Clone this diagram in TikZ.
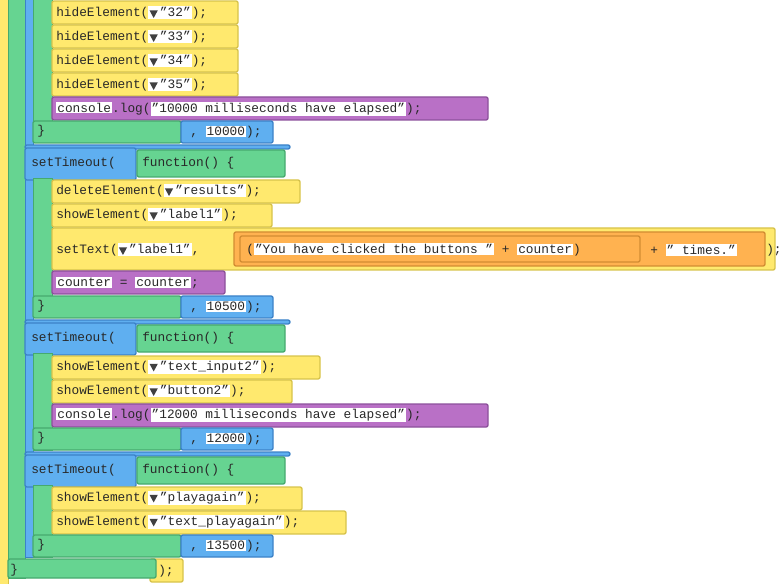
\documentclass[tikz,border=0pt]{standalone}
\usepackage{fontspec}
\setmainfont{Liberation Mono}
\definecolor{yel}{RGB}{255,233,110}
\definecolor{yelB}{RGB}{215,195,75}
\definecolor{grn}{RGB}{102,212,145}
\definecolor{grnB}{RGB}{70,170,110}
\definecolor{blu}{RGB}{95,175,240}
\definecolor{bluB}{RGB}{60,130,200}
\definecolor{pur}{RGB}{185,112,198}
\definecolor{purB}{RGB}{140,80,155}
\definecolor{org}{RGB}{255,178,80}
\definecolor{orgB}{RGB}{210,140,50}
\definecolor{txt}{RGB}{40,40,40}
\newcommand\fld[1]{{\setlength\fboxsep{0.8pt}\colorbox{white}{#1}}}
\newcommand\dd{\tikz[baseline=-0.3ex]\fill[black!75] (0,0.35em)--(0.65em,0.35em)--(0.325em,-0.25em)--cycle;}
\newcommand\ddf[1]{\fld{\dd\,"#1"}}
\begin{document}
\begin{tikzpicture}[x=0.75pt,y=-0.75pt,
 blk/.style={rounded corners=1.5pt,line width=1pt},
 Y/.style={blk,fill=yel,draw=yelB},
 G/.style={blk,fill=grn,draw=grnB},
 B/.style={blk,fill=blu,draw=bluB},
 P/.style={blk,fill=pur,draw=purB},
 O/.style={blk,fill=org,draw=orgB},
 T/.style={anchor=west,inner sep=0pt,text=txt,font=\fontsize{9.6pt}{11pt}\selectfont}]
\useasboundingbox (0,0) rectangle (781,584);
% outer
\fill[yel,draw=yelB] (-2,-2) rectangle (8,584);
\draw[Y] (150,559) rectangle (183,582);
\node[T] (close0) at (158,571) {);};
\fill[grn,draw=grnB] (8,-2) rectangle (25,578);
\draw[G] (8,559) rectangle (156,578);
\node[T] (br0) at (10,570) {\}};
% blue chain strip
\fill[blu,draw=bluB] (25,-2) rectangle (33,557);
% block 1 (clipped)
\fill[grn,draw=grnB] (33,-2) rectangle (52,140);
\draw[Y] (52,1) rectangle (238,24); \node[T] (h32) at (56,13) {hideElement(\ddf{32});};
\draw[Y] (52,25) rectangle (238,48); \node[T] (h33) at (56,37) {hideElement(\ddf{33});};
\draw[Y] (52,49) rectangle (238,72); \node[T] (h34) at (56,61) {hideElement(\ddf{34});};
\draw[Y] (52,73) rectangle (238,96); \node[T] (h35) at (56,85) {hideElement(\ddf{35});};
\draw[P] (52,97) rectangle (488,120); \node[T] (cl1) at (56,109) {\fld{console}.log(\fld{"10000 milliseconds have elapsed"});};
\draw[G] (33,121) rectangle (181,143); \node[T] (b1) at (37,131) {\}};
\draw[B] (181,121) rectangle (273,143); \node[T] (t1) at (190,132) {, \fld{10000});};
% block 2
\draw[B] (25,145) rectangle (290,149);
\draw[B] (25,148) rectangle (136,180); \node[T] (st2) at (31,163) {setTimeout(};
\draw[G] (137,150) rectangle (285,177); \node[T] (f2) at (142,163) {function() \{};
\fill[grn,draw=grnB] (33,178) rectangle (52,298);
\draw[Y] (52,180) rectangle (300,203); \node[T] (de) at (56,191) {deleteElement(\ddf{results});};
\draw[Y] (52,204) rectangle (272,227); \node[T] (se1) at (56,215) {showElement(\ddf{label1});};
\draw[Y] (52,228) rectangle (775,270); \node[T] (stx) at (56,250) {setText(\ddf{label1},};
\draw[O] (234,232) rectangle (765,266);
\draw[O] (240,236) rectangle (640,262);
\node[T] (cat) at (246,250) {(\fld{"You have clicked the buttons "} + \fld{counter})};
\node[T] (cat2) at (650,250) {+ \fld{" times."}};
\node[T] (stxe) at (766,250) {);};
\draw[P] (52,271) rectangle (225,294); \node[T] (asg) at (56,283) {\fld{counter} = \fld{counter};};
\draw[G] (33,296) rectangle (181,318); \node[T] (b2) at (37,306) {\}};
\draw[B] (181,296) rectangle (273,318); \node[T] (t2) at (190,307) {, \fld{10500});};
% block 3
\draw[B] (25,320) rectangle (290,324);
\draw[B] (25,323) rectangle (136,355); \node[T] (st3) at (31,338) {setTimeout(};
\draw[G] (137,325) rectangle (285,352); \node[T] (f3) at (142,338) {function() \{};
\fill[grn,draw=grnB] (33,353) rectangle (52,450);
\draw[Y] (52,356) rectangle (320,379); \node[T] (se2) at (56,367) {showElement(\ddf{text\_input2});};
\draw[Y] (52,380) rectangle (292,403); \node[T] (se3) at (56,391) {showElement(\ddf{button2});};
\draw[P] (52,404) rectangle (488,427); \node[T] (cl3) at (56,415) {\fld{console}.log(\fld{"12000 milliseconds have elapsed"});};
\draw[G] (33,428) rectangle (181,450); \node[T] (b3) at (37,438) {\}};
\draw[B] (181,428) rectangle (273,450); \node[T] (t3) at (190,439) {, \fld{12000});};
% block 4
\draw[B] (25,452) rectangle (290,456);
\draw[B] (25,455) rectangle (136,487); \node[T] (st4) at (31,470) {setTimeout(};
\draw[G] (137,457) rectangle (285,484); \node[T] (f4) at (142,470) {function() \{};
\fill[grn,draw=grnB] (33,485) rectangle (52,557);
\draw[Y] (52,487) rectangle (302,510); \node[T] (se4) at (56,498) {showElement(\ddf{playagain});};
\draw[Y] (52,511) rectangle (346,534); \node[T] (se5) at (56,522) {showElement(\ddf{text\_playagain});};
\draw[G] (33,535) rectangle (181,557); \node[T] (b4) at (37,545) {\}};
\draw[B] (181,535) rectangle (273,557); \node[T] (t4) at (190,546) {, \fld{13500});};
\end{tikzpicture}
\end{document}
